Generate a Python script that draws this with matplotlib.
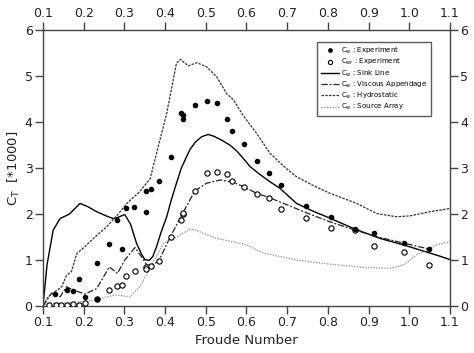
import matplotlib
matplotlib.use("Agg")
import matplotlib.pyplot as plt
import numpy as np

# experiment points (Froude number, Cw*1000)
exp_fn = [0.129, 0.158, 0.174, 0.189, 0.203, 0.233, 0.233, 0.263, 0.283, 0.293,
          0.304, 0.324, 0.353, 0.353, 0.365, 0.384, 0.414, 0.438, 0.443, 0.443,
          0.473, 0.504, 0.528, 0.551, 0.564, 0.594, 0.625, 0.655, 0.686, 0.746,
          0.807, 0.867, 0.913, 0.986, 1.048]
exp_cw = [0.26, 0.34, 0.33, 0.58, 0.19, 0.94, 0.15, 1.35, 1.87, 1.25,
          2.13, 2.16, 2.04, 2.49, 2.55, 2.72, 3.25, 4.19, 4.15, 4.07,
          4.36, 4.46, 4.41, 4.07, 3.81, 3.53, 3.15, 2.90, 2.62, 2.17,
          1.93, 1.67, 1.59, 1.38, 1.24]

expr_fn = [0.115, 0.133, 0.145, 0.159, 0.174, 0.188, 0.203, 0.233, 0.263, 0.283,
           0.293, 0.303, 0.325, 0.354, 0.354, 0.365, 0.384, 0.414, 0.438, 0.443,
           0.443, 0.473, 0.504, 0.528, 0.551, 0.565, 0.595, 0.625, 0.655, 0.686,
           0.746, 0.807, 0.867, 0.913, 0.986, 1.048]
expr_cw = [0.02, 0.02, 0.02, 0.02, 0.05, 0.02, 0.06, 0.16, 0.35, 0.43,
           0.46, 0.65, 0.77, 0.85, 0.81, 0.87, 0.97, 1.50, 1.88, 2.01,
           2.03, 2.50, 2.90, 2.91, 2.88, 2.71, 2.59, 2.44, 2.35, 2.10,
           1.91, 1.70, 1.65, 1.30, 1.17, 0.89]

sink_fn = [0.100, 0.110, 0.125, 0.142, 0.165, 0.191, 0.210, 0.232, 0.255, 0.273,
           0.285, 0.301, 0.315, 0.330, 0.342, 0.350, 0.361, 0.370, 0.379, 0.390,
           0.404, 0.415, 0.428, 0.440, 0.453, 0.461, 0.475, 0.490, 0.506, 0.520,
           0.540, 0.559, 0.575, 0.592, 0.609, 0.630, 0.658, 0.682, 0.723, 0.764,
           0.805, 0.867, 0.928, 0.985, 1.051, 1.080, 1.100]
sink_cw = [0.00, 0.90, 1.65, 1.90, 2.00, 2.23, 2.16, 2.05, 1.96, 1.90,
           1.93, 1.99, 1.78, 1.36, 1.13, 1.01, 0.99, 1.08, 1.29, 1.60,
           1.94, 2.30, 2.67, 3.00, 3.25, 3.40, 3.57, 3.68, 3.73, 3.69,
           3.60, 3.50, 3.38, 3.21, 3.03, 2.88, 2.70, 2.56, 2.23, 2.06,
           1.91, 1.67, 1.47, 1.33, 1.15, 1.07, 1.01]

visc_fn = [0.100, 0.121, 0.142, 0.158, 0.174, 0.203, 0.232, 0.263, 0.283, 0.301,
           0.326, 0.342, 0.355, 0.367, 0.384, 0.412, 0.441, 0.473, 0.502, 0.535,
           0.564, 0.594, 0.625, 0.655, 0.700, 0.746, 0.805, 0.867, 0.928, 0.990,
           1.048]
visc_cw = [0.00, 0.28, 0.20, 0.42, 0.35, 0.26, 0.38, 0.85, 0.71, 1.00,
           1.27, 1.07, 0.89, 0.89, 0.97, 1.49, 1.98, 2.50, 2.67, 2.74,
           2.70, 2.59, 2.45, 2.36, 2.20, 2.03, 1.83, 1.65, 1.49, 1.36,
           1.24]

hydro_fn = [0.100, 0.113, 0.129, 0.146, 0.158, 0.170, 0.183, 0.203, 0.224, 0.256,
            0.283, 0.306, 0.338, 0.355, 0.363, 0.379, 0.404, 0.428, 0.438, 0.457,
            0.478, 0.502, 0.527, 0.551, 0.568, 0.592, 0.625, 0.658, 0.690, 0.723,
            0.764, 0.805, 0.871, 0.920, 0.969, 1.002, 1.051, 1.100]
hydro_cw = [0.00, 0.20, 0.31, 0.42, 0.67, 0.75, 1.14, 1.29, 1.47, 1.72,
            1.98, 2.23, 2.49, 2.68, 2.76, 3.32, 4.19, 5.28, 5.36, 5.22,
            5.29, 5.20, 4.98, 4.62, 4.48, 4.14, 3.75, 3.32, 3.05, 2.81,
            2.62, 2.45, 2.23, 2.01, 1.94, 1.96, 2.05, 2.12]

src_fn = [0.100, 0.109, 0.150, 0.203, 0.232, 0.256, 0.281, 0.314, 0.338, 0.367,
          0.396, 0.428, 0.461, 0.478, 0.500, 0.527, 0.559, 0.600, 0.641, 0.680,
          0.723, 0.805, 0.887, 0.953, 0.985, 1.018, 1.067, 1.100]
src_cw = [0.00, 0.06, 0.06, 0.10, 0.13, 0.20, 0.24, 0.20, 0.42, 0.89,
          1.36, 1.50, 1.67, 1.64, 1.56, 1.47, 1.41, 1.33, 1.15, 1.08,
          1.00, 0.91, 0.84, 0.82, 0.89, 1.11, 1.33, 1.40]

labels = [r"$\mathregular{C_w}$ : Experiment",
          r"$\mathregular{C_{wr}}$ : Experiment",
          r"$\mathregular{C_w}$ : Sink Line",
          r"$\mathregular{C_w}$ : Viscous Appendage",
          r"$\mathregular{C_w}$ : Hydrostatic",
          r"$\mathregular{C_w}$ : Source Array"]

fig = plt.figure(figsize=(4.74, 3.53), dpi=100)
ax = fig.add_axes([0.0907, 0.1331, 0.8586, 0.7819])

ax.plot(exp_fn, exp_cw, "o", color="black", ms=3.0, label=labels[0], zorder=5)
ax.plot(expr_fn, expr_cw, "o", mfc="white", mec="black", mew=0.8, ms=3.8,
        label=labels[1], zorder=4)
ax.plot(sink_fn, sink_cw, "-", color="black", lw=1.0, label=labels[2])
ax.plot(visc_fn, visc_cw, color="#222222", lw=0.9, dashes=(5, 1.5, 1.5, 1.5),
        label=labels[3])
ax.plot(hydro_fn, hydro_cw, color="#333333", lw=0.9, dashes=(2.0, 1.0),
        label=labels[4])
ax.plot(src_fn, src_cw, color="#888888", lw=0.9, dashes=(1, 1.2),
        label=labels[5])

ax.set_xlim(0.1, 1.1)
ax.set_ylim(0, 6)
ax.set_xticks(np.arange(0.1, 1.11, 0.1))
ax.set_xticklabels(["0.1", "0.2", "0.3", "0.4", "0.5", "0.6", "0.7", "0.8",
                    "0.9", "1.0", "1.1"])
ax.set_yticks(range(7))

for s in ax.spines.values():
    s.set_color("#444444")
    s.set_linewidth(1.0)
ax.tick_params(axis="both", which="both", direction="out", length=6,
               width=1.0, color="#444444", labelsize=9, labelcolor="#222222",
               top=True, right=True, labeltop=True, labelright=True, pad=1.5)

ax.set_xlabel("Froude Number", fontsize=9.5, color="#222222", labelpad=3)
ax.set_ylabel(r"$\mathregular{C_T}$  [*1000]", fontsize=9.5, color="#222222",
              labelpad=2)

leg = ax.legend(loc="upper left", bbox_to_anchor=(0.674, 0.955), fontsize=5,
                frameon=True, fancybox=False, edgecolor="#333333",
                handlelength=2.6, handletextpad=0.3, labelspacing=0.15,
                borderpad=0.5, borderaxespad=0, markerscale=0.8)
leg.get_frame().set_linewidth(1.0)

plt.savefig("out.png", dpi=100)
